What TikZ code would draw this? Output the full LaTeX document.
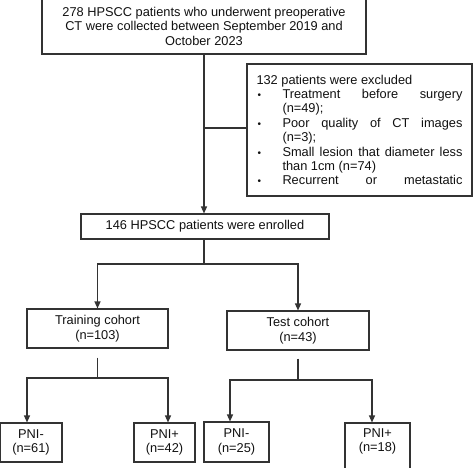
\documentclass[tikz,border=0pt]{standalone}
\usepackage{fontspec}
\setmainfont{Liberation Sans}
\usetikzlibrary{arrows.meta}
\definecolor{ln}{HTML}{333333}
\definecolor{tx}{HTML}{111111}
\newcommand{\exbul}{\makebox[26pt][l]{\hspace{1pt}{\fontsize{10}{10}\selectfont\textbullet}}}
\begin{document}
\begin{tikzpicture}[x=1pt,y=-1pt,
  font=\fontsize{12.8}{14.5}\selectfont,
  box/.style={draw=ln, line width=1.1pt, text=tx, align=center, inner sep=0pt},
  conn/.style={draw=ln, line width=1.3pt},
  arr/.style={conn, -{Triangle[length=7pt,width=6pt]}}]
\useasboundingbox (0,0) rectangle (474,467);
\clip (0,0) rectangle (474,467);
\fill[white] (0,0) rectangle (474,467);

\node[box, minimum width=324pt, minimum height=56pt] (top) at (204,26)
  {278 HPSCC patients who underwent preoperative\\CT were collected between September 2019 and\\October 2023};
\node[box, minimum width=225pt, minimum height=132pt, align=left] (ex) at (359.5,130)
  {\begin{minipage}{206pt}\fontsize{12.8}{14.4}\selectfont\color{tx}
   132 patients were excluded\\
   \exbul\makebox[180pt][s]{Treatment before surgery}\\
   \hspace*{26pt}(n=49);\\
   \exbul\makebox[180pt][s]{Poor quality of CT images}\\
   \hspace*{26pt}(n=3);\\
   \exbul\makebox[180pt][s]{Small lesion that diameter less}\\
   \hspace*{26pt}than 1cm (n=74)\\
   \exbul\makebox[180pt][s]{Recurrent or metastatic}
   \end{minipage}};
\node[box, minimum width=248pt, minimum height=25pt] (en) at (205,226.5) {146 HPSCC patients were enrolled};
\node[box, minimum width=141pt, minimum height=39pt] (tr) at (97.5,328.5) {Training cohort\\(n=103)};
\node[box, minimum width=142pt, minimum height=39pt] (te) at (298,330.5) {Test cohort\\(n=43)};
\node[box, minimum width=62pt, minimum height=39pt] (a1) at (31,442.5) {PNI-\\(n=61)};
\node[box, minimum width=61pt, minimum height=39pt] (a2) at (164.5,442.5) {PNI+\\(n=42)};
\node[box, minimum width=65pt, minimum height=40pt] (b1) at (236.5,442) {PNI-\\(n=25)};
\node[box, minimum width=65pt, minimum height=46pt,
  label={[align=center, text=tx, yshift=4.5pt]center:PNI+\\(n=18)}] (b2) at (377.5,446) {};

\coordinate (j1) at (204,128);
\draw[arr] (top.south -| j1) -- (en.north -| j1);
\draw[conn] (j1) -- (j1 -| ex.west);

\coordinate (s1) at (204,264);
\draw[conn] (s1 |- en.south) -- (s1);
\draw[arr] (s1) -| (tr.north);
\draw[arr] (s1) -| (te.north);

\coordinate (s2) at (97.5,378);
\draw[conn, shorten <=9pt] (tr.south) -- (s2);
\draw[arr] (s2) -| ([xshift=-4pt]a1.north);
\draw[arr] (s2) -| ([xshift=3.5pt]a2.north);

\coordinate (s3) at (298,380);
\draw[conn, shorten <=8pt] (te.south) -- (s3);
\draw[arr] (s3) -| ([xshift=-6.5pt]b1.north);
\draw[arr] (s3) -| ([xshift=-5.5pt]b2.north);
\end{tikzpicture}
\end{document}
